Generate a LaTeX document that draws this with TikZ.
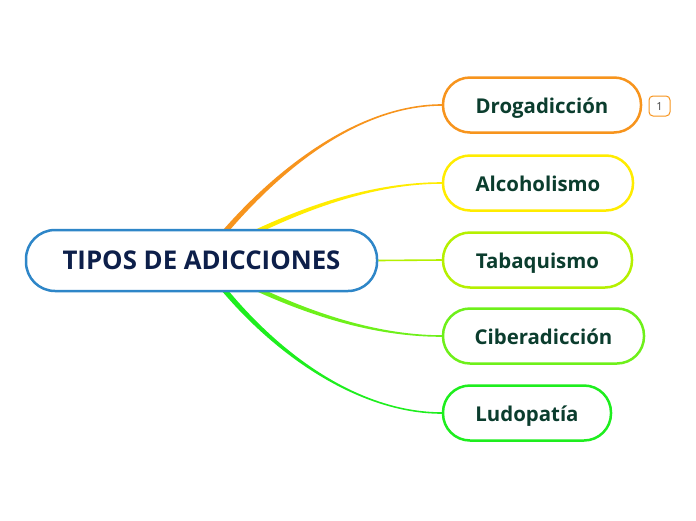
\documentclass[tikz,border=0pt]{standalone}
\usepackage{fontspec}
\setmainfont{Open Sans}
\usetikzlibrary{calc}
\definecolor{rootblue}{HTML}{2E86C8}
\definecolor{roottext}{HTML}{0D1F4A}
\definecolor{kidtext}{HTML}{0B3D2E}
\definecolor{corange}{HTML}{F7941D}
\definecolor{cyellow}{HTML}{FFEC00}
\definecolor{clime}{HTML}{B5F000}
\definecolor{cgreen}{HTML}{6EF01A}
\definecolor{cgreentwo}{HTML}{1EEE1E}
\pgfdeclarelayer{bg}
\pgfsetlayers{bg,main}
\tikzset{
  rootbox/.style={draw=rootblue, line width=2.5pt, rounded corners=29pt, fill=white,
    minimum width=351pt, minimum height=61pt, inner sep=0pt,
    text height=18.4pt, text depth=0pt,
    font=\bfseries\fontsize{25.8}{30}\selectfont, text=roottext},
  kidbox/.style={draw=#1, line width=2.5pt, rounded corners=27pt, fill=white,
    minimum height=55pt, inner sep=0pt,
    text height=17.6pt, text depth=0pt,
    font=\bfseries\fontsize{20.4}{24}\selectfont, text=kidtext},
  badge/.style={draw=corange, line width=1pt, rounded corners=4pt, fill=white,
    minimum width=21pt, minimum height=20pt, inner sep=0pt,
    text height=8pt, text depth=0pt,
    font=\fontsize{11}{13}\selectfont, text=black!75}
}
\begin{document}
\begin{tikzpicture}[x=1pt,y=-1pt]
\useasboundingbox (0,0) rectangle (696,520);

\node[rootbox] (root) at (201.5,260.5) {TIPOS DE ADICCIONES};
\node[kidbox=corange, minimum width=198pt] (drog) at (542,105) {Drogadicción};
\node[kidbox=cyellow, minimum width=190pt] (alco) at (538,183) {Alcoholismo};
\node[kidbox=clime, minimum width=189pt] (taba) at (537.5,260) {Tabaquismo};
\node[kidbox=cgreen, minimum width=201pt] (cibe) at (543.5,336) {Ciberadicción};
\node[kidbox=cgreentwo, minimum width=168pt] (ludo) at (527,413) {Ludopatía};
\node[badge] (b1) at (659.5,106) {1};

\begin{pgfonlayer}{bg}
\fill[white] (0,0) rectangle (696,520);
\fill[corange] ($(root.center)+(-3.5,0)$) .. controls (269,168) and (360,104.2) .. ($(drog.west)+(0,-0.8)$)
  -- ($(drog.west)+(0,0.8)$) .. controls (360,105.8) and (276,168) .. ($(root.center)+(3.5,0)$) -- cycle;
\fill[cyellow] ($(root.center)+(0,-3)$) .. controls (290,207.5) and (370,182.2) .. ($(alco.west)+(0,-0.8)$)
  -- ($(alco.west)+(0,0.8)$) .. controls (370,183.8) and (290,212.5) .. ($(root.center)+(0,3)$) -- cycle;
\draw[clime, line width=1.6pt] (root.east) -- (taba.west);
\fill[cgreen] ($(root.center)+(0,-3)$) .. controls (290,307.5) and (370,335.2) .. ($(cibe.west)+(0,-0.8)$)
  -- ($(cibe.west)+(0,0.8)$) .. controls (370,336.8) and (290,312.5) .. ($(root.center)+(0,3)$) -- cycle;
\fill[cgreentwo] ($(root.center)+(-3.5,0)$) .. controls (266,355) and (360,413.8) .. ($(ludo.west)+(0,0.8)$)
  -- ($(ludo.west)+(0,-0.8)$) .. controls (360,412.2) and (273,355) .. ($(root.center)+(3.5,0)$) -- cycle;
\end{pgfonlayer}
\end{tikzpicture}
\end{document}
